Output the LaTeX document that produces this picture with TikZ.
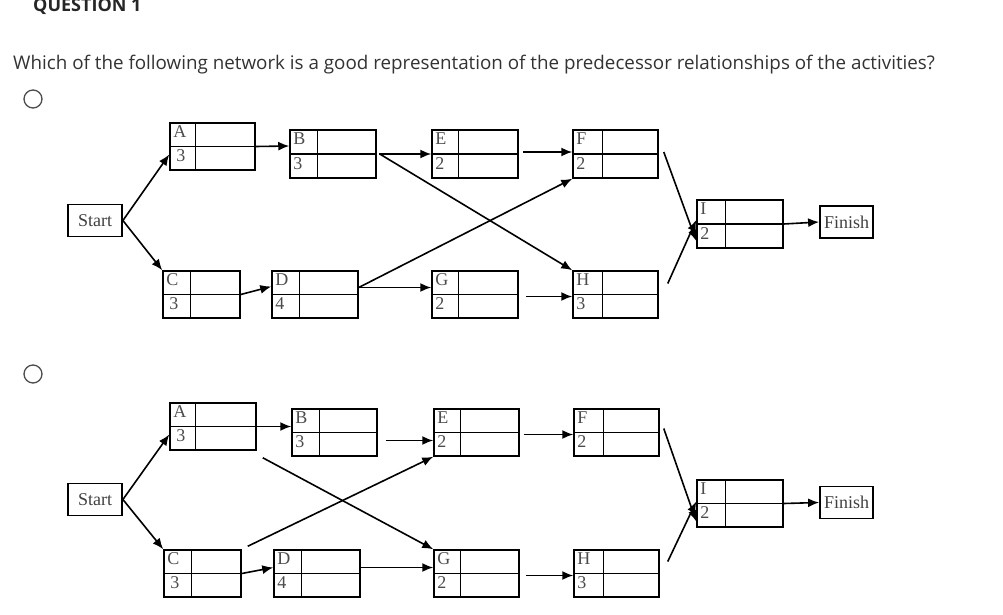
\documentclass[tikz,border=0pt]{standalone}
\usepackage{fontspec}
\setmainfont{Liberation Serif}
\newfontfamily\uifont{Open Sans}
\usetikzlibrary{calc,arrows.meta}
\tikzset{
 box/.style={draw,line width=1.5pt,inner sep=0pt},
 lbl/.style={anchor=north west,inner sep=0pt,font=\fontsize{18}{18}\selectfont,text=black!70},
 conn/.style={line width=1.6pt,-{Latex[length=11pt,width=9pt]}},
 endbox/.style={draw,line width=1.8pt,inner sep=0pt,font=\fontsize{18}{18}\selectfont,text=black!75,minimum height=32pt},
 radio/.style={draw=black!70,line width=1.3pt,circle,minimum size=18pt,inner sep=0pt}
}
% name, center, width, height, divider offset, letter, number
\newcommand\actbox[7]{%
 \node[box,minimum width=#3pt,minimum height=#4pt] (#1) at (#2) {};
 \draw[line width=1.5pt] ([xshift=#5pt]#1.north west) -- ([xshift=#5pt]#1.south west);
 \draw[line width=1.5pt] (#1.west) -- (#1.east);
 \node[lbl] (#1l) at ([xshift=4pt,yshift=-3pt]#1.north west) {#6};
 \node[lbl] (#1n) at ([xshift=4pt,yshift=-3pt]#1.west) {#7};
}
\begin{document}
\begin{tikzpicture}[x=1pt,y=-1pt]
\useasboundingbox[fill=white] (0,0) rectangle (1003,615);
\node[anchor=base west,inner sep=0,font=\uifont\bfseries\fontsize{18}{18}\selectfont,text=black!85] (q) at (33,12) {QUESTION 1};
\node[anchor=base west,inner sep=0,font=\uifont\fontsize{18.8}{18.8}\selectfont,text=black!80] (t) at (13,70) {Which of the following network is a good representation of the predecessor relationships of the activities?};
\node[radio] (r1) at (33,99) {};
\node[radio] (r2) at (33,374) {};

% ---------- Network 1 ----------
\node[endbox,minimum width=54pt] (S1) at (95,220.5) {Start};
\node[endbox,minimum width=53pt] (F1) at (846.5,222) {Finish};
\actbox{A1}{212.5,146.5}{85}{47}{26}{A}{\,3}
\actbox{B1}{333,154}{86}{48}{28}{B}{3}
\actbox{E1}{475,154}{86}{48}{27}{E}{2}
\actbox{FF1}{615.5,154}{85}{48}{30}{F}{2}
\actbox{C1}{201.5,294.5}{77}{47}{28}{C}{\,3}
\actbox{D1}{315,294.5}{86}{47}{28}{D}{4}
\actbox{G1}{475,294.5}{86}{47}{27}{G}{2}
\actbox{H1}{615.5,294.5}{85}{47}{30}{H}{3}
\actbox{I1}{740,224}{86}{48}{29}{I}{2}
\draw[conn] (S1.east) -- ([yshift=-8pt]A1.west);
\draw[conn] (S1.east) -- (C1.north west);
\draw[conn] (A1.east) -- ([yshift=8pt]B1.west);
\draw[conn] ([xshift=2pt]B1.east) -- (E1.west);
\draw[conn] ([xshift=3pt]B1.east) -- (H1.north west);
\draw[conn] (C1.east) -- ([yshift=8pt]D1.west);
\draw[conn] ([yshift=7pt]D1.east) -- ([yshift=7pt]G1.west);
\draw[conn] ([yshift=7pt]D1.east) -- (FF1.south west);
\draw[conn] ([xshift=4pt,yshift=2pt]E1.east) -- ([yshift=2pt]FF1.west);
\draw[conn] ([xshift=7pt,yshift=-2pt]G1.east) -- ([yshift=-2pt]H1.west);
\draw[conn] ([xshift=5pt,yshift=2pt]FF1.east) -- ([yshift=-17pt]I1.west);
\draw[conn] ([xshift=9pt,yshift=11pt]H1.east) -- ([yshift=4pt]I1.west);
\draw[conn] (I1.east) -- (F1.west);

% ---------- Network 2 ----------
\node[endbox,minimum width=54pt] (S2) at (95,499.5) {Start};
\node[endbox,minimum width=53pt] (F2) at (846.5,502.5) {Finish};
\actbox{A2}{213,426.5}{86}{47}{26}{A}{\,3}
\actbox{B2}{334.5,432.5}{85}{47}{28}{B}{3}
\actbox{E2}{476.5,432.5}{85}{47}{27}{E}{2}
\actbox{FF2}{616.5,432.5}{85}{47}{30}{F}{2}
\actbox{C2}{202.5,573.5}{77}{47}{28}{C}{\,3}
\actbox{D2}{317,573.5}{86}{47}{28}{D}{4}
\actbox{G2}{476.5,573.5}{85}{47}{27}{G}{2}
\actbox{H2}{616.5,573.5}{85}{47}{30}{H}{3}
\actbox{I2}{740,503.5}{86}{47}{29}{I}{2}
\draw[conn] (S2.east) -- ([yshift=-8pt]A2.west);
\draw[conn] (S2.east) -- (C2.north west);
\draw[conn] (A2.east) -- ([yshift=6pt]B2.west);
\draw[conn] ([xshift=6pt,yshift=-7pt]A2.south east) -- (G2.north west);
\draw[conn] ([xshift=8pt,yshift=-8pt]B2.east) -- ([yshift=-8pt]E2.west);
\draw[conn] ([xshift=6pt,yshift=3pt]C2.north east) -- (E2.south west);
\draw[conn] (C2.east) -- ([yshift=6pt]D2.west);
\draw[conn] ([yshift=6pt]D2.east) -- ([yshift=6pt]G2.west);
\draw[conn] ([xshift=4pt,yshift=-2pt]E2.east) -- ([yshift=-2pt]FF2.west);
\draw[conn] ([xshift=6pt,yshift=-2pt]G2.east) -- ([yshift=-2pt]H2.west);
\draw[conn] ([xshift=4pt,yshift=4pt]FF2.east) -- ([yshift=-18pt]I2.west);
\draw[conn] ([xshift=8pt,yshift=12pt]H2.east) -- ([yshift=2pt]I2.west);
\draw[conn] (I2.east) -- (F2.west);
\end{tikzpicture}
\end{document}
